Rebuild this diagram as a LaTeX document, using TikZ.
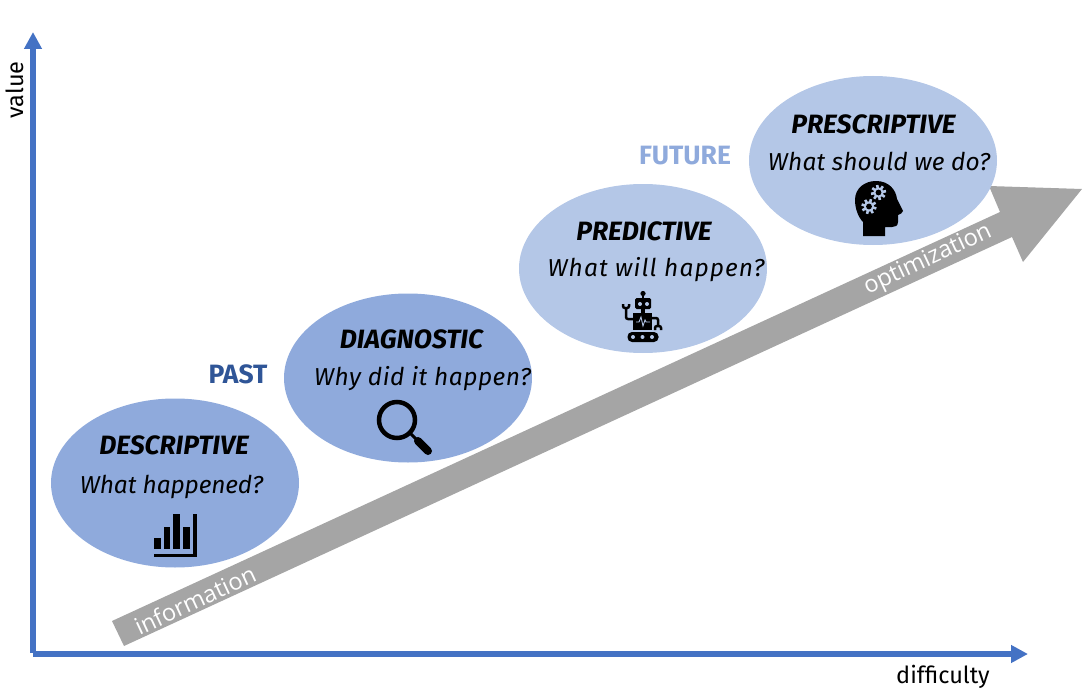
\documentclass[tikz,border=0pt]{standalone}
\usepackage{fontspec}
\setmainfont{Fira Sans}
\newfontfamily\labfont{Open Sans}
\usetikzlibrary{arrows.meta,shapes.geometric}
\definecolor{axisblue}{HTML}{4472C4}
\definecolor{darkell}{HTML}{8FAADC}
\definecolor{lightell}{HTML}{B4C7E7}
\definecolor{flow}{HTML}{A5A5A5}
\definecolor{pastcol}{HTML}{2F5597}
\tikzset{
  ell/.style={ellipse,minimum width=248pt,minimum height=169pt,inner sep=0pt},
  head/.style={font=\fontsize{26.5}{26.5}\selectfont\bfseries\itshape,text=black,inner sep=0pt},
  ask/.style={font=\fontsize{24.5}{24.5}\selectfont\itshape,text=black,inner sep=0pt},
  era/.style={font=\fontsize{26.5}{26.5}\selectfont\bfseries,inner sep=0pt},
  axlab/.style={font=\fontsize{23.5}{23.5}\selectfont,text=black,inner sep=0pt},
  flowlab/.style={font=\labfont\fontsize{23.6}{23.6}\selectfont,text=white,inner sep=0pt,rotate=25},
  axisline/.style={draw=axisblue,line width=6pt,-{Triangle[length=17pt,width=17pt]}}
}
\newcommand{\gearat}[4]{% x y r tooth rotation
  \fill[lightell] (#1,#2) circle (#3*0.68);
  \foreach \a in {0,45,...,315}{
    \fill[lightell,shift={(#1,#2)},rotate=\a+#4] (-#3*0.17,0) rectangle (#3*0.17,#3);
  }
  \fill[black] (#1,#2) circle (#3*0.38);
}
\begin{document}
\begin{tikzpicture}[x=1pt,y=-1pt]
\useasboundingbox (0,0) rectangle (1088,693);
% flow arrow
\fill[flow] (112,621) -- (1000,212) -- (989,186) -- (1082,189) -- (1023,262) -- (1012,237) -- (124,646) -- cycle;
% axes
\coordinate (ybase) at (33,653);
\coordinate (ytop) at (33,32);
\coordinate (xbase) at (33,654);
\coordinate (xend) at (1028,654);
\draw[axisline] (ybase) -- (ytop);
\draw[axisline] (xbase) -- (xend);
% ellipses
\node[ell,fill=darkell] (desc) at (175,483) {};
\node[ell,fill=darkell] (diag) at (408,378) {};
\node[ell,fill=lightell] (pred) at (643,268.5) {};
\node[ell,fill=lightell] (pres) at (873,160.5) {};
% texts
\node[head] (t1) at (174,445) {DESCRIPTIVE};
\node[ask] (q1) at (171.5,486.5) {\addfontfeature{LetterSpace=-0.5}What happened?};
\node[head] (t2) at (411.5,339) {DIAGNOSTIC};
\node[ask] (q2) at (422.5,379) {\addfontfeature{LetterSpace=2}Why did it happen?};
\node[head] (t3) at (644,231) {PREDICTIVE};
\node[ask] (q3) at (656,269.5) {\addfontfeature{LetterSpace=4.4}What will happen?};
\node[head] (t4) at (873.5,124) {PRESCRIPTIVE};
\node[ask] (q4) at (879,161.5) {\addfontfeature{LetterSpace=0.7}What should we do?};
\node[era,text=pastcol] (past) at (238,374) {PAST};
\node[era,text=darkell] (future) at (685,156) {FUTURE};
\node[axlab,rotate=90] (value) at (15,90) {value};
\node[axlab] (diff) at (943,677) {difficulty};
\node[flowlab] (info) at (195,600) {information};
\node[flowlab] (opt) at (928,260) {optimization};
% bar icon
\fill (154,538) rectangle (161,549);
\fill (163.5,527) rectangle (170,549);
\fill (173,514) rectangle (180,549);
\fill (183,527) rectangle (190,549);
\fill (154,553.5) rectangle (197,557);
\fill (193,514) rectangle (197,557);
% magnifier
\draw[line width=4.5pt] (397,420) circle (18);
\draw[line width=3pt] (411,434) -- (418,441);
\draw[line width=8pt,line cap=round] (418,441) -- (428,451);
% robot
\fill[rounded corners=1.5pt] (635,298) rectangle (651,309);
\fill (643,293.5) circle (2.6);
\fill (642,294) rectangle (644,298);
\fill[lightell] (640,304) circle (2);
\fill[lightell] (647,304) circle (2);
\fill (641,309) rectangle (645,313);
\fill (633,313) rectangle (652,330);
\draw[lightell,line width=.9pt] (636,322) -- (639,322) -- (641,317) -- (643,326) -- (645,320) -- (646,322) -- (650,322);
\draw[line width=2.5pt,rounded corners=2pt] (633,319) -- (626,319) -- (626,308);
\draw[line width=2.5pt,rounded corners=2pt] (623,304) -- (623,308) -- (629,308) -- (629,304);
\draw[line width=2.5pt,rounded corners=2pt] (652,318) -- (658,318) -- (658,326);
\draw[line width=2.5pt,rounded corners=2pt] (655,330) -- (655,326) -- (661,326) -- (661,330);
\fill[rounded corners=4.5pt] (627.5,332) rectangle (658.5,342);
\fill[lightell] (633,337) circle (2);
\fill[lightell] (642.5,337) circle (2);
\fill[lightell] (652,337) circle (2);
% head with gears
\fill (863,236) -- (863,222) .. controls (858,217) and (855,208) .. (855,200)
  .. controls (855,188) and (865,181) .. (876,181)
  .. controls (889,181) and (896,190) .. (897,199)
  -- (903,211) .. controls (903,213) and (900,214) .. (898,215)
  -- (898,222) .. controls (898,226) and (895,227) .. (892,227)
  -- (885,227) -- (885,236) -- cycle;
\gearat{878.5}{192.5}{7.6}{10}
\gearat{869}{206.5}{7.6}{30}
\end{tikzpicture}
\end{document}
